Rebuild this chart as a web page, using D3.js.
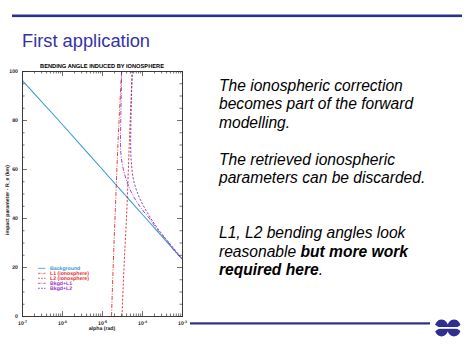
<!DOCTYPE html>
<html><head><meta charset="utf-8">
<script src="https://cdn.jsdelivr.net/npm/d3@7"></script>
<style>
html,body{margin:0;padding:0;background:#fff;}
svg{display:block;}
text{font-family:"Liberation Sans",Arial,Helvetica,sans-serif;}
.small{text-rendering:geometricPrecision;-webkit-font-smoothing:antialiased;}
</style></head>
<body>
<svg id="c" width="474" height="355"></svg>
<script>
// ---- data ----
const xDecades = [1e-7, 1e-6, 1e-5, 1e-4, 1e-3];
const xExponents = ["-7", "-6", "-5", "-4", "-3"];
const yTicks = [0, 20, 40, 60, 80, 100];

const bgHeight = [96.3, 80, 60, 40, 23.3];
const bgAlpha  = [1.0e-7, 8.1e-7, 1.0e-5, 1.23e-4, 1.0e-3];

const l1Height = [0, 20, 43, 70, 100];
const l1Alpha  = [1.73e-5, 1.9e-5, 2.15e-5, 2.5e-5, 3.09e-5];

const l2Height = [0, 20, 43, 70, 100];
const l2Alpha  = [3.16e-5, 3.55e-5, 4.17e-5, 4.8e-5, 5.7e-5];

const b1Height = [100, 80, 70, 60, 55, 50, 44, 40, 35, 30, 26, 23.3];
const b1Alpha  = [3.1e-5, 2.95e-5, 2.9e-5, 3.4e-5, 4.17e-5, 5.6e-5, 9.5e-5, 1.5e-4, 2.5e-4, 4.6e-4, 6.9e-4, 1.0e-3];

const b2Height = [100, 80, 70, 60, 55, 50, 44, 40, 35, 30, 26, 23.3];
const b2Alpha  = [5.7e-5, 5.3e-5, 5.2e-5, 5.6e-5, 6.25e-5, 7.8e-5, 1.17e-4, 1.64e-4, 2.66e-4, 4.7e-4, 7.45e-4, 1.04e-3];

const legendLabels = ["Background", "L1 (ionosphere)", "L2 (ionosphere)", "Bkgd+L1", "Bkgd+L2"];

const bullets = [
  [{t:"The ionospheric correction"}],
  [{t:"becomes part of the forward"}],
  [{t:"modelling."}],
  null,
  [{t:"The retrieved ionospheric"}],
  [{t:"parameters can be discarded."}],
  null, null,
  [{t:"L1, L2 bending angles look"}],
  [{t:"reasonable "},{t:"but more work",b:true}],
  [{t:"required here",b:true},{t:"."}]
];

// ---- drawing ----
const svg = d3.select("#c");
const navy = "#2f2f8f";

// slide decorations
svg.append("rect").attr("x",12).attr("y",14.5).attr("width",450).attr("height",2.6).attr("fill",navy);
svg.append("text").attr("x",22).attr("y",46.5).attr("font-size",18.3).attr("fill","#3333a8").text("First application");
svg.append("rect").attr("x",190).attr("y",322.3).attr("width",240).attr("height",2.2).attr("fill",navy);

// logo (approximation)
const logo = svg.append("g");
logo.append("ellipse").attr("cx",441.5).attr("cy",328).attr("rx",7).attr("ry",8.5).attr("fill",navy);
logo.append("ellipse").attr("cx",454).attr("cy",328).attr("rx",7).attr("ry",8.5).attr("fill",navy);
logo.append("rect").attr("x",434).attr("y",327).attr("width",28).attr("height",1.8).attr("fill","#fff");
logo.append("path").attr("d","M434,324 L440,328 L434,332Z").attr("fill","#fff");
logo.append("path").attr("d","M462,324 L456,328 L462,332Z").attr("fill","#fff");
logo.append("path").attr("d","M445.5,318.5 L447.8,322.5 L450,318.5Z").attr("fill","#fff");
logo.append("path").attr("d","M445.5,337.5 L447.8,333.5 L450,337.5Z").attr("fill","#fff");

// right text
const tg = svg.append("g").attr("font-size",15.6).attr("font-style","italic").attr("fill","#000");
bullets.forEach((line,i)=>{
  if(!line) return;
  const t = tg.append("text").attr("x",219).attr("y",91 + i*18.4);
  line.forEach(s=>t.append("tspan").attr("font-weight",s.b?"bold":"normal").text(s.t));
});

// chart
const x = d3.scaleLog().domain([1e-7,1e-3]).range([22,182]);
const y = d3.scaleLinear().domain([0,100]).range([316,71]);
const axisColor = "#333";

const plot = svg.append("g");
svg.append("defs").append("clipPath").attr("id","plotclip")
  .append("rect").attr("x",22).attr("y",71).attr("width",160).attr("height",245);

function styleAxis(g){
  g.select(".domain").attr("stroke",axisColor).attr("stroke-width",0.8);
  g.selectAll(".tick line").attr("stroke",axisColor).attr("stroke-width",0.7);
}
const minorX = x.ticks().filter(v=>!xDecades.some(d=>Math.abs(d-v)/d<1e-6));
const minorY = d3.range(0,101,5).filter(v=>v%20!==0);

// series (drawn first, under axes)
const series = [
  {h:bgHeight,a:bgAlpha,color:"#3c9ad0",dash:null,w:1.1},
  {h:l1Height,a:l1Alpha,color:"#e0303a",dash:"4,1.5,1,1.5",w:0.9},
  {h:l2Height,a:l2Alpha,color:"#d8303a",dash:"2.2,1.6",w:0.9},
  {h:b1Height,a:b1Alpha,color:"#9a30c8",dash:"4,1.5,1,1.5",w:0.9},
  {h:b2Height,a:b2Alpha,color:"#7f30b8",dash:"2.2,1.6",w:0.9}
];
const line = d3.line().x(d=>x(d[1])).y(d=>y(d[0])).curve(d3.curveMonotoneY);
const lines = plot.append("g").attr("clip-path","url(#plotclip)");
series.forEach(s=>{
  lines.append("path").datum(s.h.map((h,i)=>[h,s.a[i]]))
    .attr("d",line).attr("fill","none").attr("stroke",s.color)
    .attr("stroke-width",s.w).attr("stroke-dasharray",s.dash);
});

// bottom
plot.append("g").attr("transform","translate(0,316)")
  .call(d3.axisBottom(x).tickValues(minorX).tickSize(-2.5).tickFormat(""))
  .call(styleAxis);
const bx = plot.append("g").attr("transform","translate(0,316)")
  .call(d3.axisBottom(x).tickValues(xDecades).tickSize(-5).tickPadding(3).tickFormat(""))
  .call(styleAxis);
bx.selectAll(".tick").append("text").attr("class","small").attr("y",9).attr("text-anchor","middle")
  .attr("font-size",5.2).attr("font-weight","bold").attr("fill","#222")
  .each(function(d,i){
    const t=d3.select(this);
    t.append("tspan").text("10");
    t.append("tspan").attr("dy",-2).attr("font-size",3.6).text(xExponents[i]);
  });
// top
plot.append("g").attr("transform","translate(0,71)")
  .call(d3.axisTop(x).tickValues(minorX).tickSize(-2.5).tickFormat(""))
  .call(styleAxis);
plot.append("g").attr("transform","translate(0,71)")
  .call(d3.axisTop(x).tickValues(xDecades).tickSize(-5).tickFormat(""))
  .call(styleAxis);
// left
plot.append("g").attr("transform","translate(22,0)")
  .call(d3.axisLeft(y).tickValues(minorY).tickSize(-2.5).tickFormat(""))
  .call(styleAxis);
const ly = plot.append("g").attr("transform","translate(22,0)")
  .call(d3.axisLeft(y).tickValues(yTicks).tickSize(-5).tickPadding(4).tickFormat(d3.format("d")))
  .call(styleAxis);
ly.selectAll(".tick text").attr("class","small").attr("font-size",5.2).attr("font-weight","bold").attr("fill","#222")
  .attr("font-family","'Liberation Sans',Arial,sans-serif");
// right
plot.append("g").attr("transform","translate(182,0)")
  .call(d3.axisRight(y).tickValues(minorY).tickSize(-2.5).tickFormat(""))
  .call(styleAxis);
plot.append("g").attr("transform","translate(182,0)")
  .call(d3.axisRight(y).tickValues(yTicks).tickSize(-5).tickFormat(""))
  .call(styleAxis);

// titles
plot.append("text").attr("class","small").attr("x",102).attr("y",68).attr("text-anchor","middle")
  .attr("font-size",5.7).attr("font-weight","bold").attr("fill","#000").attr("stroke","none")
  .text("BENDING ANGLE INDUCED BY IONOSPHERE");
plot.append("text").attr("class","small").attr("x",102).attr("y",329.5).attr("text-anchor","middle")
  .attr("font-size",5.2).attr("font-weight","bold").attr("fill","#222").text("alpha (rad)");
plot.append("text").attr("class","small").attr("transform","translate(9,200) rotate(-90)").attr("text-anchor","middle")
  .attr("font-size",5.2).attr("font-weight","bold").attr("fill","#222").text("impact parameter - R_e (km)");

// legend
const legColors = ["#3399dd","#e03030","#e03030","#9933cc","#9933cc"];
const lg = plot.append("g");
legendLabels.forEach((lab,i)=>{
  const yy = 268.3 + i*5;
  lg.append("line").attr("x1",38).attr("x2",45.5).attr("y1",yy).attr("y2",yy)
    .attr("stroke",series[i].color).attr("stroke-width",0.8)
    .attr("stroke-dasharray",i===0?null:(i%2===1?"2.5,1,0.8,1":"1.8,1.2"));
  lg.append("text").attr("class","small").attr("x",50).attr("y",yy+1.8).attr("font-size",5.2).attr("font-weight","bold")
    .attr("fill",legColors[i]).text(lab);
});
</script>
</body></html>
